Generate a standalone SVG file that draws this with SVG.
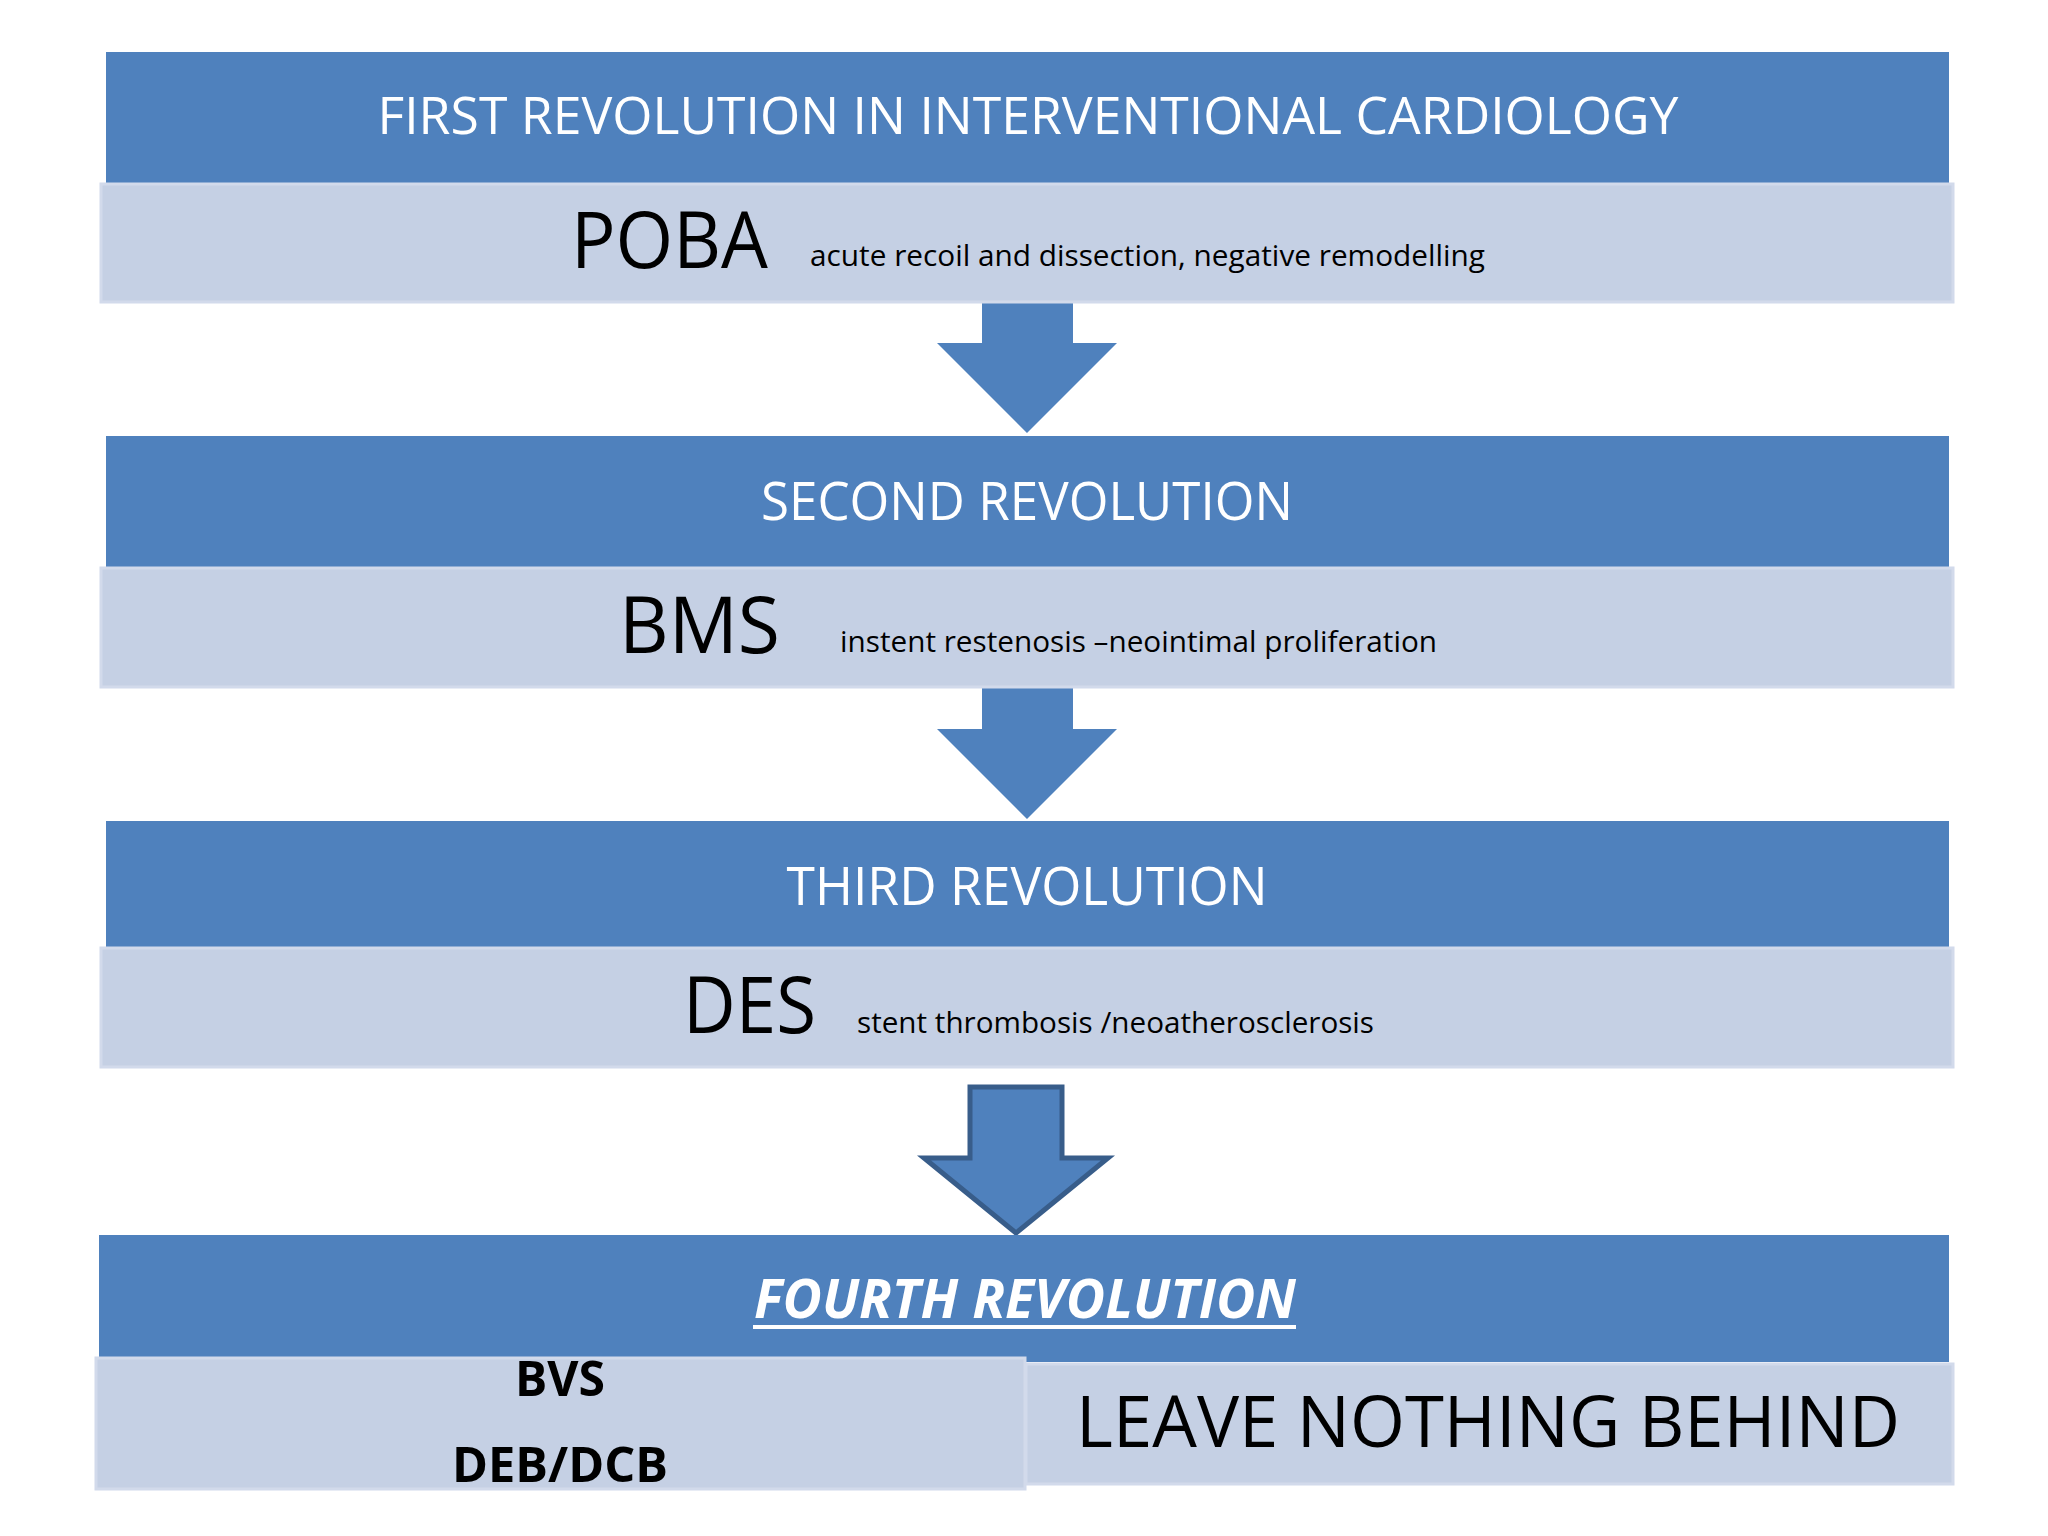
<svg xmlns="http://www.w3.org/2000/svg" width="2048" height="1536" viewBox="0 0 2048 1536">
<style>
.hdr{fill:#4f81bd}
.sub{fill:#c5d0e4;stroke:#d2daeb;stroke-width:3}
.arrow{fill:#4f81bd}
.arrow2{fill:#4f81bd;stroke:#385d8a;stroke-width:5;stroke-linejoin:miter}
.t{font-family:"Open Sans","Liberation Sans",sans-serif}
.w{fill:#ffffff}
.k{fill:#000000}
</style>
<rect width="2048" height="1536" fill="#ffffff"/>
<g id="connectors">
<polygon class="arrow" points="982,300 1073,300 1073,343 1117,343 1027,433 937,343 982,343"/>
<polygon class="arrow" points="982,685 1073,685 1073,729 1117,729 1027,819 937,729 982,729"/>
<polygon class="arrow2" points="970,1087 1062,1087 1062,1158 1108,1158 1016,1233 924,1158 970,1158"/>
</g>
<g id="rev1">
<rect class="hdr" x="106" y="52" width="1843" height="131"/>
<text class="t w" x="1028" y="134" font-size="52" text-anchor="middle" textLength="1301" lengthAdjust="spacingAndGlyphs">FIRST REVOLUTION IN INTERVENTIONAL CARDIOLOGY</text>
</g>
<g id="poba">
<rect class="sub" x="101" y="184" width="1852" height="118"/>
<text class="t k" x="571" y="268" font-size="78" textLength="197" lengthAdjust="spacingAndGlyphs">POBA</text>
<text class="t k" x="810" y="266" font-size="30" textLength="675" lengthAdjust="spacingAndGlyphs">acute recoil and dissection, negative remodelling</text>
</g>
<g id="rev2">
<rect class="hdr" x="106" y="436" width="1843" height="131"/>
<text class="t w" x="1027" y="520" font-size="53" text-anchor="middle" textLength="532" lengthAdjust="spacingAndGlyphs">SECOND REVOLUTION</text>
</g>
<g id="bms">
<rect class="sub" x="101" y="568" width="1852" height="119"/>
<text class="t k" x="619" y="653" font-size="78" textLength="161" lengthAdjust="spacingAndGlyphs">BMS</text>
<text class="t k" x="840" y="652" font-size="30" textLength="597" lengthAdjust="spacingAndGlyphs">instent restenosis –neointimal proliferation</text>
</g>
<g id="rev3">
<rect class="hdr" x="106" y="821" width="1843" height="126"/>
<text class="t w" x="1027" y="905" font-size="53" text-anchor="middle" textLength="481" lengthAdjust="spacingAndGlyphs">THIRD REVOLUTION</text>
</g>
<g id="des">
<rect class="sub" x="101" y="948" width="1852" height="119"/>
<text class="t k" x="683" y="1033" font-size="78" textLength="133" lengthAdjust="spacingAndGlyphs">DES</text>
<text class="t k" x="857" y="1033" font-size="30" textLength="517" lengthAdjust="spacingAndGlyphs">stent thrombosis /neoatherosclerosis</text>
</g>
<g id="rev4">
<rect class="hdr" x="99" y="1235" width="1850" height="127"/>
<text class="t w" x="1025" y="1318" font-size="53" font-weight="bold" font-style="italic" text-anchor="middle" textLength="542" lengthAdjust="spacingAndGlyphs">FOURTH REVOLUTION</text>
<rect x="753" y="1325" width="543" height="4" fill="#ffffff"/>
</g>
<g id="bvs-deb">
<rect class="sub" x="96" y="1358" width="929" height="131"/>
<text class="t k" x="560" y="1396" font-size="48" font-weight="bold" text-anchor="middle" textLength="90" lengthAdjust="spacingAndGlyphs">BVS</text>
<text class="t k" x="560" y="1482" font-size="48" font-weight="bold" text-anchor="middle" textLength="216" lengthAdjust="spacingAndGlyphs">DEB/DCB</text>
</g>
<g id="leave-nothing-behind">
<rect class="sub" x="1026" y="1364" width="927" height="120"/>
<text class="t k" x="1076" y="1447" font-size="72" textLength="824" lengthAdjust="spacingAndGlyphs">LEAVE NOTHING BEHIND</text>
</g>
</svg>
